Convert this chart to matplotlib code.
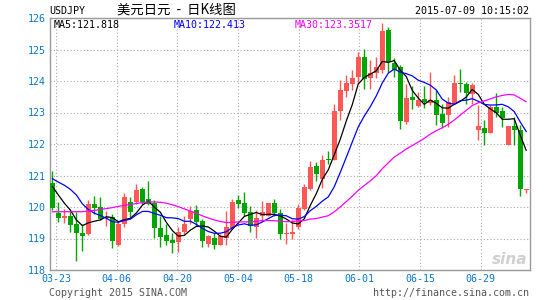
import numpy as np
import pandas as pd
import matplotlib
matplotlib.use("Agg")
from matplotlib import pyplot as plt

# daily candles, oldest first
opens = [120.76, 119.81, 119.65, 119.71, 119.45, 119.19, 119.15, 120.08, 120.00, 119.65,
         119.68, 118.78, 119.45, 120.16, 120.16, 120.56, 120.24, 120.14, 119.34, 119.10,
         118.96, 118.88, 119.20, 119.63, 119.89, 119.54, 118.81, 119.02, 118.78, 119.02,
         119.34, 120.21, 120.12, 119.84, 119.38, 119.73, 119.73, 120.12, 119.82, 119.15,
         119.15, 119.36, 119.95, 120.58, 121.29, 120.90, 121.53, 121.48, 123.05, 123.69,
         123.90, 124.13, 124.77, 124.08, 124.24, 124.34, 125.61, 124.58, 124.45, 122.70,
         123.49, 123.20, 123.44, 123.30, 123.41, 122.94, 122.91, 123.28, 123.94, 123.89,
         123.60, 122.44, 122.52, 122.35, 123.18, 123.05, 121.96, 122.56, 122.44, 120.53]
highs = [121.15, 120.16, 119.95, 119.95, 119.84, 119.47, 120.21, 120.34, 120.31, 119.86,
         119.79, 119.52, 120.44, 120.31, 120.74, 120.63, 120.81, 120.21, 119.73, 119.47,
         119.17, 119.38, 119.71, 120.02, 120.05, 119.63, 119.10, 119.17, 119.15, 119.86,
         120.26, 120.37, 120.47, 120.02, 119.89, 120.18, 120.12, 120.24, 119.95, 119.49,
         119.60, 120.08, 120.74, 121.45, 121.43, 121.64, 121.78, 123.28, 124.03, 124.18,
         124.34, 124.93, 125.03, 124.66, 124.77, 125.83, 125.72, 124.72, 124.50, 123.90,
         123.84, 123.65, 123.85, 124.30, 123.70, 123.28, 123.49, 124.18, 124.37, 123.97,
         123.94, 123.23, 122.75, 123.23, 123.63, 123.18, 122.56, 122.86, 122.60, 120.58]
lows = [119.92, 119.52, 119.49, 119.20, 118.28, 118.60, 119.10, 119.79, 119.60, 119.41,
        118.69, 118.75, 119.38, 119.68, 120.10, 120.10, 120.05, 119.02, 118.73, 118.78,
        118.53, 118.57, 119.15, 119.45, 119.41, 118.73, 118.73, 118.67, 118.78, 118.78,
        119.31, 119.96, 119.73, 119.20, 119.02, 119.57, 119.73, 119.73, 118.99, 118.83,
        118.99, 119.31, 119.89, 120.55, 120.81, 120.61, 121.38, 121.48, 122.75, 123.50,
        123.71, 123.92, 123.76, 123.76, 124.08, 124.26, 124.29, 124.13, 122.49, 122.65,
        123.10, 123.18, 123.15, 123.23, 122.60, 122.52, 122.54, 123.28, 123.65, 123.28,
        123.28, 122.12, 121.96, 122.35, 122.86, 122.54, 121.96, 121.96, 120.34, 120.43]
closes = [119.98, 119.65, 119.73, 119.42, 119.17, 119.07, 120.10, 119.98, 119.63, 119.68,
          118.92, 119.45, 120.31, 119.84, 120.53, 120.16, 120.10, 119.34, 119.04, 118.92,
          118.86, 119.22, 119.45, 119.87, 119.52, 118.92, 119.07, 118.78, 119.07, 119.38,
          120.16, 120.08, 119.81, 119.41, 119.66, 119.84, 120.12, 119.81, 119.15, 119.17,
          119.22, 119.96, 120.63, 121.27, 121.04, 121.48, 121.48, 123.04, 123.71, 123.94,
          124.08, 124.77, 124.05, 124.26, 124.45, 125.58, 124.61, 124.34, 122.73, 123.45,
          123.39, 123.39, 123.34, 123.41, 122.93, 122.67, 123.34, 123.94, 123.89, 123.62,
          123.87, 122.56, 122.36, 123.18, 122.99, 122.84, 122.56, 122.44, 120.58, 120.58]

# MA values at the start of the window (they depend on earlier days not shown)
ma5_head = [120.65, 120.38, 120.12, 119.90]
ma10_head = [120.90, 120.79, 120.69, 120.56, 120.38, 120.10, 119.92, 119.80, 119.73]
ma30_head = [119.85, 119.85, 119.85, 119.85, 119.85, 119.85, 119.87, 119.89, 119.92, 119.95,
             119.98, 120.02, 120.05, 120.08, 120.11, 120.14, 120.16, 120.16, 120.15, 120.12,
             120.07, 120.01, 119.94, 119.87, 119.80, 119.72, 119.65, 119.59, 119.54]

ma_labels = ["MA5:121.818", "MA10:122.413", "MA30:123.3517"]
tick_labels = ["03-23", "04-06", "04-20", "05-04", "05-18", "06-01", "06-15", "06-29"]
y_ticks = [118, 119, 120, 121, 122, 123, 124, 125, 126]

symbol = "USDJPY"
title = "美元日元  -  日K线图"
stamp = "2015-07-09 10:15:02"

UP = "#ff5656"
DOWN = "#00a600"
BLUE_TXT = "#0a78cc"
MONO = "DejaVu Sans Mono"
W, H = 545, 300


def moving_avg(vals, n, head):
    out = pd.Series(vals).rolling(n).mean().to_numpy()
    out[:len(head)] = head
    return out


o = np.array(opens)
c = np.array(closes)
x = np.arange(len(c))
up = c >= o
colors = np.where(up, UP, DOWN)

fig = plt.figure(figsize=(W / 100, H / 100), dpi=100)
ax = fig.add_axes([50 / W, 30 / H, 479.5 / W, 252 / H])

ax.vlines(x, lows, highs, colors=colors, linewidth=1.0, zorder=2)
body = np.maximum(np.abs(c - o), 0.025)
ax.bar(x, body, bottom=np.minimum(o, c), width=0.8, color=colors,
       linewidth=0, zorder=3)

ax.plot(x, moving_avg(closes, 5, ma5_head), color="black", lw=0.9, zorder=4)
ax.plot(x, moving_avg(closes, 10, ma10_head), color="#0000ff", lw=0.9, zorder=4)
ax.plot(x, moving_avg(closes, 30, ma30_head), color="#ff00ff", lw=0.9, zorder=4)

ax.set_xlim(-0.4, 79.55)
ax.set_ylim(118, 126)
ax.set_yticks(y_ticks)
ax.set_yticklabels([str(v) for v in y_ticks])
ax.set_xticks(np.linspace(0.6, 71.4, len(tick_labels)))
ax.set_xticklabels(tick_labels)
ax.tick_params(length=0, labelsize=7.2, labelcolor=BLUE_TXT, pad=3)
for lab in ax.get_xticklabels() + ax.get_yticklabels():
    lab.set_fontfamily(MONO)
ax.grid(True, color="#aaaaaa", linestyle=(0, (1, 2)), linewidth=0.8)
ax.set_axisbelow(True)
for s in ax.spines.values():
    s.set_color("#999999")
    s.set_linewidth(1.0)

# header
fig.text(49 / W, 1 - 11 / H, symbol, fontsize=7.2, family=MONO, va="center")
fig.text(117 / W, 1 - 10 / H, title, fontsize=9.6, va="center",
         family=["Noto Sans CJK SC", "DejaVu Sans"])
fig.text(529 / W, 1 - 11 / H, stamp, fontsize=7.2, family=MONO, va="center",
         ha="right")

for lab, col, px in zip(ma_labels, ["black", "#0000ff", "#ff00ff"], [54, 174, 295]):
    fig.text(px / W, 1 - 24.5 / H, lab, fontsize=7.2, family=MONO, color=col,
             va="center")

# footer
fig.text(49 / W, 1 - 292.5 / H, "Copyright 2015 SINA.COM", fontsize=7.2,
         family=MONO, color="#555555", va="center")
fig.text(529 / W, 1 - 292.5 / H, "http://finance.sina.com.cn", fontsize=7.2,
         family=MONO, color="#555555", va="center", ha="right")
fig.text(527 / W, 1 - 260 / H, "sina", fontsize=11, style="italic",
         weight="bold", color="#d0d0d0", ha="right", va="center")

fig.savefig("out.png", dpi=100)
